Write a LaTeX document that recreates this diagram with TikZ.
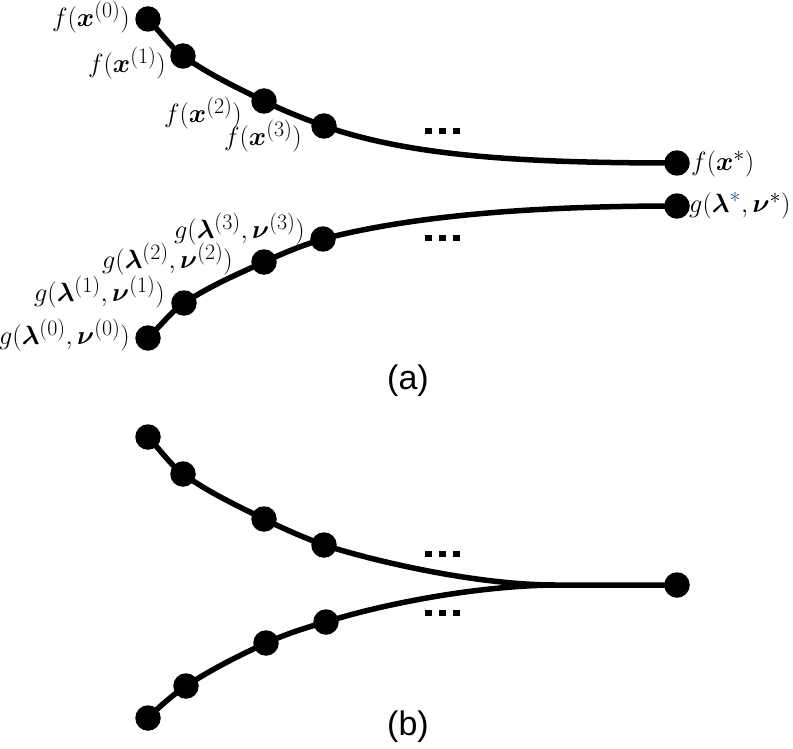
\documentclass[tikz,border=0pt]{standalone}
\usepackage{amsmath}
\usepackage{graphicx}
\usepackage{fontspec}
\newfontfamily\labfont{Liberation Sans}
\definecolor{starblue}{RGB}{40,90,140}
\pgfdeclarelayer{background}
\pgfsetlayers{background,main}
\newcommand{\bigmath}[1]{\scalebox{1.06}{$#1$}}
\tikzset{
  pt/.style={circle,fill=black,inner sep=0pt,minimum size=25.5pt},
  curve/.style={line width=5.5pt},
  lab/.style={inner sep=0pt,font=\fontsize{24.88}{28}\selectfont},
  dotsq/.style={fill=black,inner sep=0pt,minimum width=7pt,minimum height=6.5pt},
  panel/.style={inner sep=0pt,font=\labfont\fontsize{34}{40}\selectfont},
}
\begin{document}
\begin{tikzpicture}[x=1pt,y=-1pt]
\useasboundingbox (0,0) rectangle (793,749);
% ---------- (a) ----------
\node[pt] (a0) at (148,19) {};
\node[pt] (a1) at (183,56) {};
\node[pt] (a2) at (264,101) {};
\node[pt] (a3) at (324,126) {};
\node[pt] (a4) at (677,163) {};
\node[pt] (b0) at (148,338) {};
\node[pt] (b1) at (184,303) {};
\node[pt] (b2) at (264,262) {};
\node[pt] (b3) at (323,239) {};
\node[pt] (b4) at (677,206) {};
\begin{pgfonlayer}{background}
\draw[curve] (a0.center) .. controls (159.7,31.3) and (171.3,47.7) .. (a1.center)
  .. controls (210,75.2) and (237,87.5) .. (a2.center)
  .. controls (284,111) and (304,118.6) .. (a3.center)
  .. controls (410,156) and (520,163) .. (a4.center);
\draw[curve] (b0.center) .. controls (160,326.3) and (172,310.9) .. (b1.center)
  .. controls (210.7,285.5) and (237.3,274.3) .. (b2.center)
  .. controls (283.7,252.9) and (303.3,244.9) .. (b3.center)
  .. controls (400,219) and (510,206) .. (b4.center);
\end{pgfonlayer}
\node[lab,anchor=east] (fa0) at (130,17) {\bigmath{f(\boldsymbol{x}^{(0)})}};
\node[lab,anchor=east] (fa1) at (166,63) {\bigmath{f(\boldsymbol{x}^{(1)})}};
\node[lab,anchor=east] (fa2) at (242,113) {\bigmath{f(\boldsymbol{x}^{(2)})}};
\node[lab,anchor=east] (fa3) at (302,136) {\bigmath{f(\boldsymbol{x}^{(3)})}};
\node[lab,anchor=west] (fas) at (691,164) {\bigmath{f(\boldsymbol{x}^{*})}};
\node[lab,anchor=west] (gas) at (689,206) {\bigmath{g(\boldsymbol{\lambda}^{\textcolor{starblue}{*}},\boldsymbol{\nu}^{*})}};
\node[lab,anchor=east] (ga3) at (305,229) {\bigmath{g(\boldsymbol{\lambda}^{(3)},\boldsymbol{\nu}^{(3)})}};
\node[lab,anchor=east] (ga2) at (233,259) {\bigmath{g(\boldsymbol{\lambda}^{(2)},\boldsymbol{\nu}^{(2)})}};
\node[lab,anchor=east] (ga1) at (165,292) {\bigmath{g(\boldsymbol{\lambda}^{(1)},\boldsymbol{\nu}^{(1)})}};
\node[lab,anchor=east] (ga0) at (130,335) {\bigmath{g(\boldsymbol{\lambda}^{(0)},\boldsymbol{\nu}^{(0)})}};
\node[dotsq] (ea1) at (428.5,131) {};
\node[dotsq] (ea2) at (442.5,131) {};
\node[dotsq] (ea3) at (456.5,131) {};
\node[dotsq] (eb1) at (428.5,238) {};
\node[dotsq] (eb2) at (442.5,238) {};
\node[dotsq] (eb3) at (456.5,238) {};
\node[panel] (pa) at (408,381) {(a)};
% ---------- (b) ----------
\node[pt] (c0) at (148,437) {};
\node[pt] (c1) at (183,474) {};
\node[pt] (c2) at (264,519) {};
\node[pt] (c3) at (324,545) {};
\node[pt] (c4) at (677,585) {};
\node[pt] (d0) at (148,718) {};
\node[pt] (d1) at (186,686) {};
\node[pt] (d2) at (266,643) {};
\node[pt] (d3) at (326,622) {};
\coordinate (m) at (555,585);
\begin{pgfonlayer}{background}
\draw[curve] (c0.center) .. controls (159.7,449.3) and (171.3,465.7) .. (c1.center)
  .. controls (210,493.2) and (237,505.5) .. (c2.center)
  .. controls (284,529) and (304,537.6) .. (c3.center)
  .. controls (380,563) and (480,585) .. (m) -- (c4.center);
\draw[curve] (d0.center) .. controls (160,706) and (174,694) .. (d1.center)
  .. controls (212.7,668.5) and (239.3,655.5) .. (d2.center)
  .. controls (286,634) and (306,627.5) .. (d3.center)
  .. controls (376,606) and (470,586) .. (m);
\end{pgfonlayer}
\node[dotsq] (ec1) at (428.5,554) {};
\node[dotsq] (ec2) at (442.5,554) {};
\node[dotsq] (ec3) at (456.5,554) {};
\node[dotsq] (ed1) at (428.5,613) {};
\node[dotsq] (ed2) at (442.5,613) {};
\node[dotsq] (ed3) at (456.5,613) {};
\node[panel] (pb) at (408,727) {(b)};
\end{tikzpicture}
\end{document}
